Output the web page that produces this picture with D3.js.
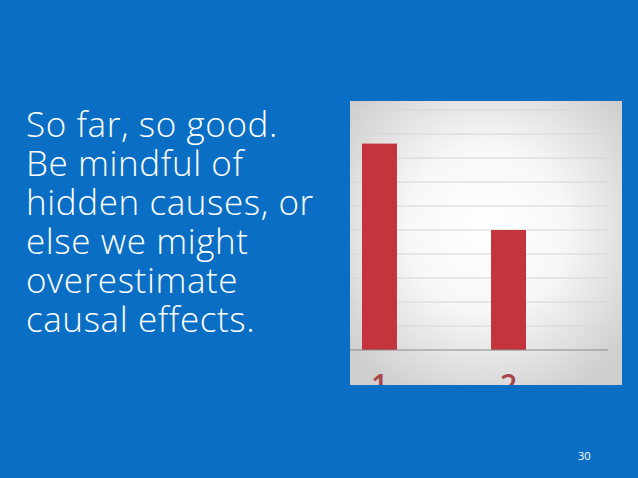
<!DOCTYPE html>
<html><head><meta charset="utf-8">
<script src="https://cdn.jsdelivr.net/npm/d3@7"></script>
<style>body{margin:0;background:#0a6fc4;overflow:hidden}</style>
</head><body>
<svg width="638" height="478"></svg>
<script>
const categories = ['1', '2'];
const values = [8.6, 5.0];
const gridTicks = [1, 2, 3, 4, 5, 6, 7, 8, 9, 10];
const textLines = ['So far, so good.', 'Be mindful of', 'hidden causes, or', 'else we might', 'overestimate', 'causal effects.'];

var svg = d3.select('svg');
svg.append('rect').attr('width', 638).attr('height', 478).attr('fill', '#0a6fc4');

var defs = svg.append('defs');
var grad = defs.append('radialGradient').attr('id', 'bg').attr('cx', '50%').attr('cy', '45%').attr('r', '65%');
grad.append('stop').attr('offset', '0%').attr('stop-color', '#ffffff');
grad.append('stop').attr('offset', '45%').attr('stop-color', '#f7f7f7');
grad.append('stop').attr('offset', '100%').attr('stop-color', '#cfcfcf');
var clip = defs.append('clipPath').attr('id', 'pc');
clip.append('rect').attr('x', 350).attr('y', 101).attr('width', 272).attr('height', 284);

svg.append('rect').attr('x', 350).attr('y', 101).attr('width', 272).attr('height', 284).attr('fill', 'url(#bg)');

var x = d3.scaleBand().domain(categories).range([350, 538]).paddingInner(0.729).paddingOuter(0.093);
var y = d3.scaleLinear().domain([0, 10]).range([350, 110]);

var g = svg.append('g').attr('clip-path', 'url(#pc)');
g.selectAll('.grid').data(gridTicks).enter().append('line')
  .attr('x1', 350).attr('x2', 608).attr('y1', d => y(d)).attr('y2', d => y(d))
  .attr('stroke', '#d6d6d6').attr('stroke-width', 1);

g.selectAll('.bar').data(values).enter().append('rect')
  .attr('x', (d, i) => x(categories[i])).attr('width', x.bandwidth())
  .attr('y', d => y(d)).attr('height', d => y(0) - y(d))
  .attr('fill', '#c4343c');

g.append('line').attr('x1', 350).attr('x2', 608).attr('y1', y(0)).attr('y2', y(0))
  .attr('stroke', '#8a8a8a').attr('stroke-width', 1.2);

g.selectAll('.lab').data(categories).enter().append('text')
  .attr('x', d => x(d) + x.bandwidth() / 2).attr('y', 396)
  .attr('text-anchor', 'middle').attr('font-family', 'Open Sans, sans-serif')
  .attr('font-size', 30).attr('font-weight', 600).attr('fill', '#a8444a').text(d => d);

svg.selectAll('.t').data(textLines).enter().append('text')
  .attr('x', 26).attr('y', (d, i) => 137 + i * 39)
  .attr('font-family', 'Open Sans, sans-serif').attr('font-weight', 300)
  .attr('font-size', 35).attr('letter-spacing', 0.6).attr('fill', '#ffffff').text(d => d);

svg.append('text').attr('x', 578).attr('y', 460).attr('font-family', 'Open Sans, sans-serif')
  .attr('font-size', 11).attr('fill', '#ffffff').text('30');
</script>
</body></html>
